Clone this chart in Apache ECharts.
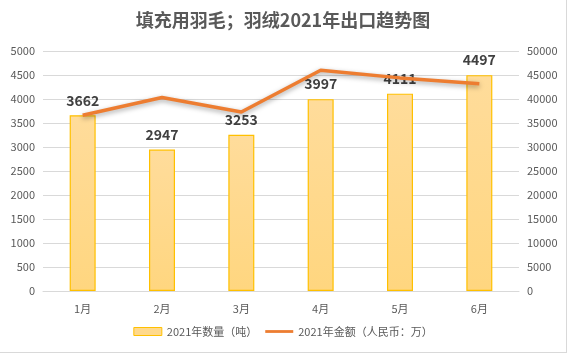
<!DOCTYPE html>
<html>
<head>
<meta charset="utf-8">
<script src="https://cdn.jsdelivr.net/npm/echarts@6/dist/echarts.min.js"></script>
<style>
html,body{margin:0;padding:0;background:#fff;}
#c{position:absolute;left:0;top:0;width:566px;height:352px;border:1px solid #d9d9d9;border-top:none;border-left:none;}
</style>
</head>
<body>
<div id="c"></div>
<script>
const categories = ['1月','2月','3月','4月','5月','6月'];
const quantity = [3662, 2947, 3253, 3997, 4111, 4497];
const amount = [36600, 40300, 37300, 46000, 44400, 43200];
const leftTicks = {min: 0, max: 5000, interval: 500};
const rightTicks = {min: 0, max: 50000, interval: 5000};
const seriesNames = ['2021年数量（吨）', '2021年金额（人民币：万）'];
const titleText = '填充用羽毛；羽绒2021年出口趋势图';

const font = '"Microsoft YaHei","Noto Sans CJK SC",sans-serif';
const chart = echarts.init(document.getElementById('c'));
chart.setOption({
  backgroundColor: '#fff',
  animation: false,
  title: {
    text: titleText, left: 'center', top: 6,
    textStyle: {color: '#595959', fontSize: 18, fontWeight: 'bold', fontFamily: font}
  },
  grid: {left: 43, right: 47, top: 51, bottom: 61},
  legend: {
    bottom: 10, left: 'center', itemGap: 8,
    textStyle: {color: '#595959', fontSize: 11, fontFamily: font},
    data: [
      {name: seriesNames[0], icon: 'rect', itemStyle: {color: '#FFD98C', borderColor: '#FFC000', borderWidth: 1}},
      {name: seriesNames[1], icon: 'path://M0,0 L30,0 L30,3 L0,3 Z', itemStyle: {color: '#ED7D31'}}
    ],
    itemWidth: 28, itemHeight: 8
  },
  xAxis: {
    type: 'category', data: categories,
    axisLine: {lineStyle: {color: '#d9d9d9'}},
    axisTick: {show: false},
    axisLabel: {color: '#595959', fontSize: 11, fontFamily: font, margin: 12}
  },
  yAxis: [
    {type: 'value', min: leftTicks.min, max: leftTicks.max, interval: leftTicks.interval,
     axisLine: {show: false}, axisTick: {show: false},
     axisLabel: {color: '#595959', fontSize: 11, fontFamily: font, margin: 8, formatter: v => String(v)},
     splitLine: {lineStyle: {color: '#d9d9d9'}}},
    {type: 'value', min: rightTicks.min, max: rightTicks.max, interval: rightTicks.interval,
     axisLine: {show: false}, axisTick: {show: false},
     axisLabel: {color: '#595959', fontSize: 11, fontFamily: font, margin: 8, formatter: v => String(v)},
     splitLine: {show: false}}
  ],
  series: [
    {name: seriesNames[0], type: 'bar', data: quantity, barWidth: 26, yAxisIndex: 0,
     itemStyle: {
       color: new echarts.graphic.LinearGradient(0,0,0,1,[{offset:0,color:'#FFDC9B'},{offset:1,color:'#FFD67F'}]),
       borderColor: '#FFC000', borderWidth: 1.2
     },
     label: {show: true, position: 'top', distance: 8, color: '#404040', fontSize: 14, fontWeight: 'bold', fontFamily: font}
    },
    {name: seriesNames[1], type: 'line', data: amount, yAxisIndex: 1, symbol: 'none', z: 5,
     lineStyle: {color: '#ED7D31', width: 3.5, shadowColor: 'rgba(0,0,0,0.35)', shadowBlur: 5, shadowOffsetY: 2},
     itemStyle: {color: '#ED7D31'}
    }
  ]
});
</script>
</body>
</html>
